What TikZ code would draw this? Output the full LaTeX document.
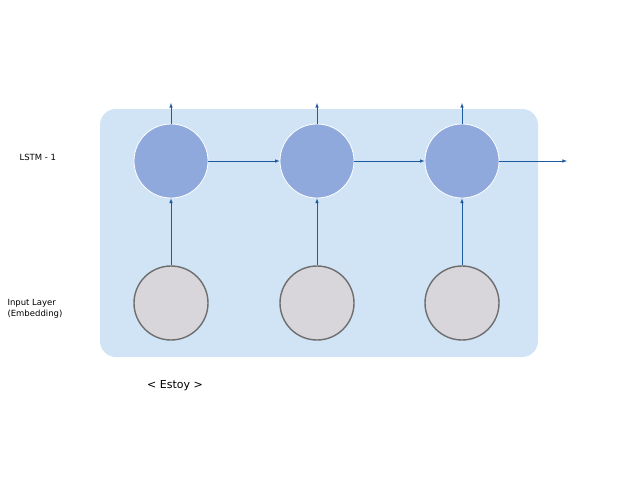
\documentclass[tikz,border=0pt]{standalone}
\usepackage{fontspec}
\setmainfont{DejaVu Sans}
\begin{document}
\begin{tikzpicture}[x=1pt,y=-1pt,
  inp/.style={circle,draw=ec,line width=1.4pt,fill=ic,minimum size=74pt,inner sep=0pt},
  arr/.style={-latex,draw=ac,line width=0.6pt},
  lbl/.style={font=\fontsize{8.5}{11}\selectfont,align=left}]
\definecolor{bgc}{RGB}{208,228,245}
\definecolor{lc}{RGB}{143,169,220}
\definecolor{ac}{RGB}{30,90,160}
\definecolor{ic}{RGB}{216,214,218}
\definecolor{ec}{RGB}{110,110,110}
\fill[white] (0,0) rectangle (640,480);
\useasboundingbox (0,0) rectangle (640,480);
\fill[bgc,rounded corners=16pt] (100,109) rectangle (538,357);
\foreach \i/\x in {1/171,2/317,3/462}{
  \node[circle,fill=lc,draw=white,line width=0.8pt,minimum size=74pt,inner sep=0pt] (h\i) at (\x,161) {};
  \node[inp] (e\i) at (\x,303) {};
  \coordinate (u\i) at (\x,103);
  \draw[arr] (h\i.north) -- (u\i);
  \draw[arr] (e\i.north) -- (h\i.south);
}
\coordinate (out) at (567,161);
\draw[arr] (h1.east) -- (h2.west);
\draw[arr] (h2.east) -- (h3.west);
\draw[arr] (h3.east) -- (out);
\node[lbl,anchor=west] (l1) at (16,157) {LSTM - 1};
\node[lbl,anchor=west] (l2) at (4,309) {Input Layer\\(Embedding)};
\node[font=\fontsize{11}{13}\selectfont] (w) at (175,386) {< Estoy >};
\end{tikzpicture}
\end{document}
